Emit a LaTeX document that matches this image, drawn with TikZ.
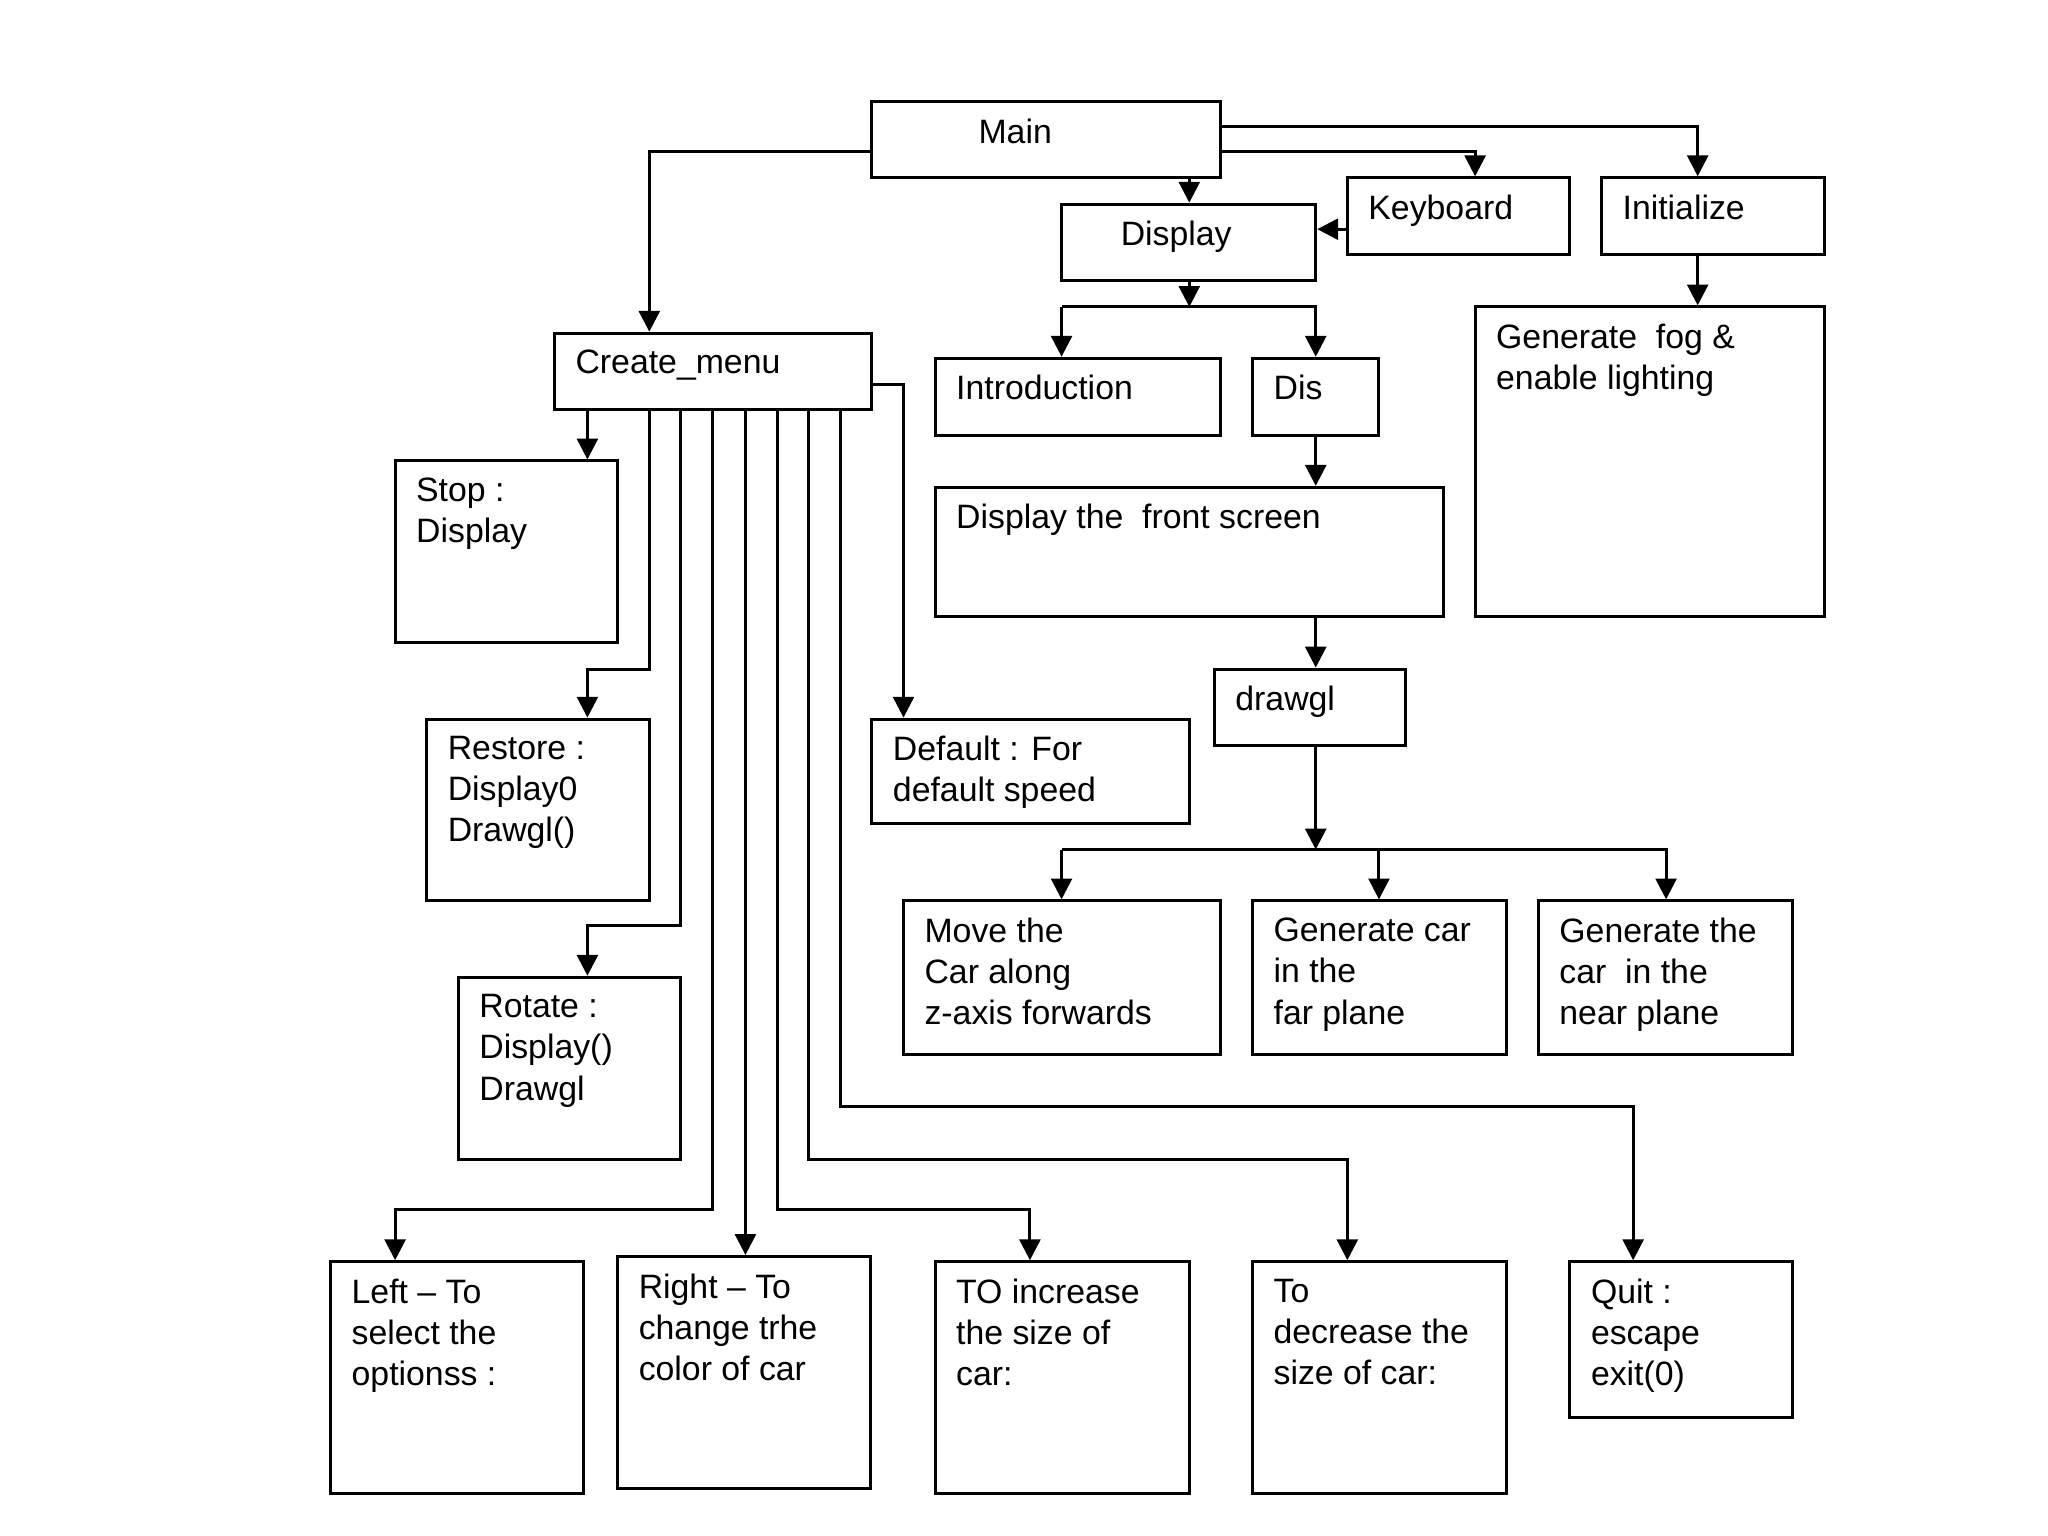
\documentclass[tikz,border=0pt]{standalone}
\usepackage{fontspec}
\setmainfont{Liberation Sans}
\usetikzlibrary{fit,arrows.meta}
\begin{document}
\begin{tikzpicture}[x=0.01cm,y=-0.01cm,line width=0.65pt,
  >={Triangle[length=4.5pt,width=4.5pt]},
  every label/.style={anchor=north west,align=left,inner sep=0pt,font=\fontsize{7.3}{8.9}\selectfont},
  label distance=0pt]
\useasboundingbox[fill=white] (0,0) rectangle (1555,1166);
\newcommand\bx[7][16]{\node[draw,inner sep=0pt,fit={(#3,#4)(#5,#6)},
  label={[xshift=#1*0.01cm,yshift=-0.13cm]north west:#7}] (#2) {};}
\bx[81]{main}{662}{77}{927}{135}{Main}
\bx[45]{disp}{806}{155}{999}{213}{Display}
\bx{key}{1023}{135}{1192}{193}{Keyboard}
\bx{init}{1216}{135}{1385}{193}{Initialize}
\bx{cm}{421}{253}{662}{311}{Create\_menu}
\bx{intro}{710}{272}{927}{331}{Introduction}
\bx{dis}{951}{272}{1047}{331}{Dis}
\bx{fog}{1120}{233}{1385}{468}{Generate\ \ fog \&\\enable lighting}
\bx{stop}{300}{350}{469}{488}{Stop :\\Display}
\bx{front}{710}{370}{1096}{468}{Display the\ \ front screen}
\bx{drawgl}{922}{508}{1067}{566}{drawgl}
\bx{restore}{324}{546}{493}{684}{Restore :\\Display0\\Drawgl()}
\bx{default}{662}{546}{903}{625}{Default : For\\default speed}
\bx{move}{686}{684}{927}{801}{Move the\\Car along\\z-axis forwards}
\bx{far}{951}{684}{1144}{801}{Generate car\\in the\\far plane}
\bx{near}{1168}{684}{1361}{801}{Generate the\\car\ \ in the\\near plane}
\bx{rotate}{348}{742}{517}{880}{Rotate :\\Display()\\Drawgl}
\bx{left}{251}{958}{443}{1134}{Left -- To\\select the\\optionss :}
\bx{right}{469}{954}{661}{1130}{Right -- To\\change trhe\\color of car}
\bx{inc}{710}{958}{903}{1134}{TO increase\\the size of\\car:}
\bx{dec}{951}{958}{1144}{1134}{To\\decrease the\\size of car:}
\bx{quit}{1192}{958}{1361}{1076}{Quit :\\escape\\exit(0)}
% Main
\draw[->] (main.west |- 0,115) -- (493,115) -- (cm.north -| 493,0);
\draw[->] (main.south -| 903,0) -- (disp.north -| 903,0);
\draw[->] (main.east |- 0,115) -- (1120,115) -- (key.north -| 1120,0);
\draw[->] (main.east |- 0,96) -- (1289,96) -- (init.north -| 1289,0);
\draw[->] (key.west |- 0,174) -- (disp.east |- 0,174);
\draw[->] (init.south -| 1289,0) -- (fog.north -| 1289,0);
% Display
\draw[->] (disp.south -| 903,0) -- (903,233);
\draw[->] (806,233) -- (intro.north -| 806,0);
\draw[->] (806,233) -- (999,233) -- (dis.north -| 999,0);
\draw[->] (dis.south -| 999,0) -- (front.north -| 999,0);
\draw[->] (front.south -| 999,0) -- (drawgl.north -| 999,0);
\draw[->] (drawgl.south -| 999,0) -- (999,645);
\draw[->] (806,645) -- (move.north -| 806,0);
\draw[->] (806,645) -- (1265,645) -- (near.north -| 1265,0);
\draw[->] (1047,645) -- (far.north -| 1047,0);
% Create_menu
\draw[->] (cm.south -| 446,0) -- (stop.north -| 446,0);
\draw[->] (cm.south -| 493,0) -- (493,508) -- (446,508) -- (restore.north -| 446,0);
\draw[->] (cm.south -| 517,0) -- (517,703) -- (446,703) -- (rotate.north -| 446,0);
\draw[->] (cm.south -| 541,0) -- (541,918) -- (300,918) -- (left.north -| 300,0);
\draw[->] (cm.south -| 566,0) -- (right.north -| 566,0);
\draw[->] (cm.south -| 590,0) -- (590,918) -- (782,918) -- (inc.north -| 782,0);
\draw[->] (cm.south -| 614,0) -- (614,880) -- (1023,880) -- (dec.north -| 1023,0);
\draw[->] (cm.south -| 638,0) -- (638,840) -- (1240,840) -- (quit.north -| 1240,0);
\draw[->] (cm.east |- 0,292) -- (686,292) -- (default.north -| 686,0);
\end{tikzpicture}
\end{document}
